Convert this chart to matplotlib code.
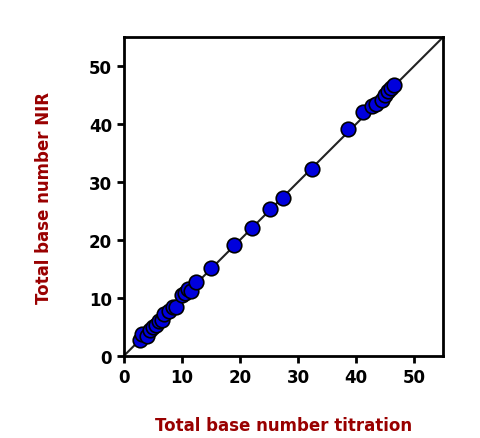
import matplotlib.pyplot as plt
import numpy as np

titration = [2.8, 3.2, 4.0, 4.5, 5.0, 5.5, 6.0, 6.5, 7.0, 7.8, 8.5, 9.0, 10.0, 10.5, 11.0, 11.5,
             12.5, 15.0, 19.0, 22.0, 25.2, 27.4, 32.4, 38.6, 41.2, 42.8, 43.5, 44.5, 45.0, 45.5, 46.0, 46.5]
nir = [2.8, 3.8, 3.5, 4.5, 5.0, 5.3, 6.0, 6.2, 7.2, 7.8, 8.4, 8.5, 10.5, 10.8, 11.5, 11.2,
       12.7, 15.2, 19.1, 22.0, 25.3, 27.3, 32.3, 39.2, 42.1, 43.2, 43.5, 44.2, 45.0, 45.8, 46.3, 46.8]

fig = plt.figure(figsize=(4.8, 4.39), dpi=100)
ax = fig.add_axes([0.258, 0.187, 0.665, 0.726])
ax.plot([0, 55], [0, 55], color='#222222', lw=1.5, zorder=1)
ax.scatter(titration, nir, s=110, color='#0000dd', edgecolor='black', linewidth=1.2, zorder=2)
ax.set_xlim(0, 55)
ax.set_ylim(0, 55)
ax.set_xticks(range(0, 51, 10))
ax.set_yticks(range(0, 51, 10))
for s in ax.spines.values():
    s.set_linewidth(2)
ax.tick_params(width=2, length=5, labelsize=12)
for lab in ax.get_xticklabels() + ax.get_yticklabels():
    lab.set_fontweight('bold')
ax.set_xlabel('Total base number titration', fontsize=12, fontweight='bold', color='#990000', labelpad=22)
ax.set_ylabel('Total base number NIR', fontsize=12, fontweight='bold', color='#990000', labelpad=26)
fig.savefig('out.png')
